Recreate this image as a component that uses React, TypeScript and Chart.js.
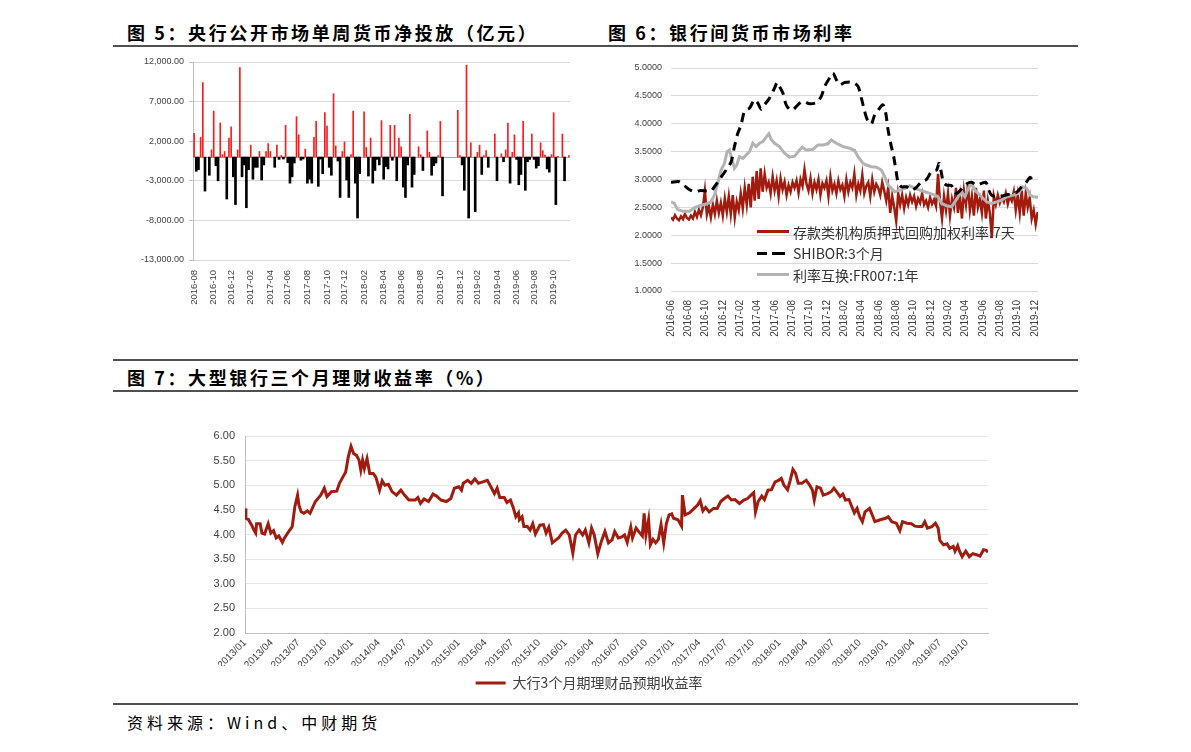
import React, { useEffect, useRef } from "react";
import { Chart, registerables } from "chart.js";
Chart.register(...registerables);

const TICK_FONT = "'Liberation Sans', Arial, sans-serif";
const CJK_FONT = "'Noto Sans CJK SC', sans-serif";

// ---------- 图5 央行公开市场单周货币净投放（亿元）: weekly, from 2016-08-05 ----------
const injectionFirstWeek = "2016-08-05";
const netInjection = [
  3000, -1800, -1600, 2500, 9400, -4300, 0, -2300, 900, 5800,
  -1100, -3000, 4300, 300, 700, -5300, 2400, 3800, -2500, -6000,
  900, 11300, -2500, -1000, -6400, -1600, 1500, -2800, -1300, -1300,
  700, -2900, -1000, 700, 1700, 700, 0, -1300, 1500, -300,
  200, -250, 4000, -700, -3300, -2500, -750, 5100, 2800, -400,
  -250, 1000, -3300, -2800, -3300, 2500, 4500, -3700, -250, -2100,
  5600, 3900, -1300, -2300, 8000, 1400, -500, -5100, 700, 1900,
  -2900, -5100, 300, 5800, -3300, -7700, -2100, 0, 5700, 1200,
  -2400, 2400, -3300, -1700, -300, -1000, 4600, -2800, -1200, -1500,
  4000, -400, 4000, -3000, 2400, 1300, -3800, -5100, -1000, 5400,
  -3800, -2200, 0, 1300, 300, -1700, 0, 3300, 600, -2300,
  -1100, -750, 200, 4500, -4900, 0, 0, 0, 0, 0,
  0, 5900, 200, -1000, -4200, 11600, -7700, 1800, 0, -6900,
  600, 1500, -2200, 200, 800, -1300, 0, 0, 2900, -3000,
  0, 400, -600, 900, 4300, -3300, 600, 2800, -300, -3500,
  -2200, 4500, -4200, -600, -300, 2900, -300, -1400, -1100, 1800,
  800, 250, -1500, -1900, 300, 5600, -6000, 100, 0, 2900,
  -3000, 0, 200,
];
const injectionTicksMin = -13000;
const injectionTicksMax = 12000;
const injectionStep = 5000;

// ---------- 图6 银行间货币市场利率: x = months since 2016-06 ----------
const rateAxisLabels = [
  "2016-06", "2016-08", "2016-10", "2016-12", "2017-02", "2017-04", "2017-06", "2017-08",
  "2017-10", "2017-12", "2018-02", "2018-04", "2018-06", "2018-08", "2018-10", "2018-12",
  "2019-02", "2019-04", "2019-06", "2019-08", "2019-10", "2019-12",
];
// DR007, weekly samples
const dr007Weekly = [
  2.32, 2.28, 2.36, 2.30, 2.27, 2.34, 2.29, 2.38, 2.31, 2.28, 2.35,
  2.30, 2.42, 2.33, 2.46, 2.36, 2.50, 2.80, 2.37, 2.52, 2.32,
  2.55, 2.38, 2.62, 2.40, 2.58, 2.35, 2.66, 2.42, 2.70, 2.38,
  2.72, 2.32, 2.60, 2.45, 2.75,
  2.48, 2.85, 2.55, 2.92, 2.50, 3.05, 2.62, 3.15,
  2.65, 3.20, 2.78, 3.10, 2.85, 2.95, 2.75,
  3.05, 2.80, 2.98, 2.70, 3.02, 2.82, 2.96, 2.72, 2.90, 2.78, 2.95, 2.85, 2.98, 2.76, 3.00, 2.88, 3.18, 2.92, 2.80, 3.02,
  2.75, 2.95, 2.82, 3.00, 2.72, 2.93, 2.85, 2.98, 2.70, 3.05, 2.80, 2.92, 2.75, 2.98, 2.82,
  2.90, 2.70, 3.00, 2.78, 2.95, 2.85, 3.10, 2.72, 2.92, 2.80, 3.08, 2.75, 2.88, 2.95, 2.70,
  3.00, 2.78, 2.92, 2.85, 2.72, 2.95, 2.80,
  2.62, 2.85, 2.40,
  2.70, 2.50, 2.25, 2.75, 2.55, 2.72, 2.48, 2.68,
  2.55, 2.72, 2.60, 2.70, 2.52, 2.66, 2.58, 2.75, 2.55, 2.62, 2.50, 2.68, 2.56, 2.64, 2.52, 3.10, 2.60,
  2.30, 2.70, 2.45, 2.75, 2.35, 2.65, 2.50, 2.85, 2.40, 2.70, 2.30, 2.80, 2.55, 2.90, 2.45,
  2.70, 2.35, 2.85, 2.50, 2.65, 2.40, 2.80, 2.30, 2.62, 2.40, 1.95, 2.70,
  2.55, 2.72, 2.58, 2.68, 2.60, 2.75, 2.56, 2.70, 2.62, 2.78, 2.45, 2.72, 2.40,
  2.80, 2.35, 2.75, 2.50, 2.68, 2.30, 2.45, 2.20, 2.42,
];
const shiborMonths = [
  0, 0.96, 1.93, 2.7, 3.28, 4.62, 5.01, 5.59, 6.36, 6.94, 7.32, 7.71, 8.09, 8.48, 9.06, 9.63,
  10.02, 10.4, 10.79, 11.37, 11.95, 12.25, 12.52, 12.91, 13.29, 13.68, 14.07, 14.64, 15.22,
  15.99, 16.76, 17.34, 17.73, 18.3, 18.69, 19.08, 19.46, 20.04, 21.0, 21.58, 21.97, 22.35,
  22.74, 23.12, 23.51, 24.08, 24.47, 24.78, 25.05, 25.43, 25.7, 26.01, 26.2, 26.59, 27.17,
  27.75, 28.32, 28.9, 29.48, 30.06, 30.64, 30.94, 31.21, 31.41, 31.79, 32.37, 32.95, 33.53,
  34.1, 34.68, 35.26, 35.84, 36.34, 36.61, 36.99, 37.57, 38.34, 39.11, 39.88, 40.46, 41.04,
  41.43, 41.66,
];
const shiborValues = [
  2.95, 2.96, 2.84, 2.78, 2.80, 2.80, 2.87, 3.00, 3.17, 3.32, 3.59, 3.83, 3.98, 4.22, 4.28, 4.43,
  4.37, 4.26, 4.34, 4.46, 4.64, 4.74, 4.67, 4.55, 4.34, 4.26, 4.25, 4.34, 4.40,
  4.36, 4.38, 4.49, 4.67, 4.82, 4.91, 4.79, 4.70, 4.74, 4.74, 4.67, 4.46, 4.22,
  4.04, 4.00, 4.16, 4.28, 4.34, 4.19, 3.89, 3.59, 3.41, 3.11, 2.96, 2.87, 2.87,
  2.81, 2.86, 2.96, 3.00, 3.14, 3.17, 3.29, 3.11, 2.96, 2.90, 2.89, 2.75, 2.83,
  2.92, 2.95, 2.90, 2.93, 2.95, 2.83, 2.72, 2.69, 2.71, 2.74, 2.77, 2.87, 2.96,
  3.04, 3.00,
];
const fr007Months = [
  0, 0.39, 0.77, 1.35, 2.12, 2.7, 3.28, 4.05, 4.62, 5.01, 5.39, 5.78, 6.17, 6.47, 6.74, 7.05,
  7.32, 7.59, 7.9, 8.29, 8.67, 9.06, 9.44, 9.83, 10.21, 10.6, 10.98, 11.29, 11.56, 11.95,
  12.52, 13.1, 13.68, 14.26, 14.84, 15.14, 15.61, 16.38, 16.96, 17.53, 18.11, 18.5, 19.08,
  19.85, 20.62, 21.19, 21.58, 22.16, 22.54, 23.12, 23.7, 24.28, 24.66, 25.05, 25.43, 25.82,
  26.4, 26.97, 27.55, 28.13, 28.71, 29.29, 29.87, 30.44, 30.83, 31.21, 31.79, 32.37, 32.76,
  33.14, 33.53, 33.91, 34.3, 34.68, 35.07, 35.45, 35.84, 36.42, 36.99, 37.57, 38.15, 38.73,
  39.5, 40.08, 40.58, 41.04, 41.43, 41.81, 42.39,
];
const fr007Values = [
  2.60, 2.57, 2.46, 2.43, 2.43, 2.49, 2.53, 2.56, 2.60, 2.72, 2.93, 3.17, 3.29, 3.50, 3.53, 3.35,
  3.20, 3.26, 3.41, 3.38, 3.44, 3.50, 3.65, 3.59, 3.65, 3.68, 3.76, 3.82, 3.72, 3.65,
  3.59, 3.47, 3.40, 3.42, 3.53, 3.58, 3.53, 3.54, 3.62, 3.62, 3.64, 3.71, 3.65,
  3.59, 3.56, 3.52, 3.41, 3.29, 3.26, 3.23, 3.22, 3.17, 3.05, 2.90, 2.84, 2.78,
  2.81, 2.84, 2.89, 2.84, 2.81, 2.78, 2.75, 2.72, 2.69, 2.57, 2.53, 2.51, 2.60,
  2.69, 2.78, 2.69, 2.84, 2.93, 2.81, 2.75, 2.69, 2.60, 2.57, 2.60, 2.63, 2.69,
  2.72, 2.75, 2.87, 2.84, 2.72, 2.69, 2.68,
];

// ---------- 图7 大型银行三个月理财收益率（%）: x = months since 2013-01 ----------
const wmpMonths = [
  0, 0.1, 0.4, 0.8, 1.0, 1.2, 1.3, 1.7, 1.9, 2.2, 2.6, 2.9, 3.2, 3.5, 3.8, 4.2, 4.4, 4.9, 5.3, 5.6,
  5.9, 6.05, 6.3, 6.6, 7.0, 7.3, 7.9, 8.5, 8.9, 9.2, 9.7, 10.3, 10.6, 11.0, 11.3, 11.6, 11.9, 12.2,
  12.5, 12.8, 13.0, 13.2, 13.4, 13.7, 14.0, 14.4, 14.7, 15.1, 15.4, 15.7, 16.1, 16.5, 17.0, 17.5,
  17.9, 18.4, 19.1, 19.4, 19.7, 20.1, 20.6, 21.1, 21.5, 22.0, 22.6, 23.1, 23.5, 24.0, 24.3, 24.5,
  25.0, 25.4, 25.8, 26.2, 26.7, 27.2, 27.6, 28.0, 28.3, 28.6, 29.1, 29.4, 29.8, 30.1, 30.4, 30.7,
  30.8, 31.1, 31.3, 31.7, 32.0, 32.3, 32.6, 33.1, 33.5, 33.8, 34.1, 34.5, 34.9, 35.2, 35.6, 36.0,
  36.4, 36.8, 37.1, 37.5, 37.9, 38.2, 38.6, 38.9, 39.2, 39.6, 40.0, 40.4, 40.8, 41.2, 41.5, 41.9,
  42.3, 42.6, 42.9, 43.3, 43.5, 43.9, 44.2, 44.6, 44.8, 45.0, 45.3, 45.5, 45.8, 46.1, 46.4, 46.7,
  47.0, 47.3, 47.6, 47.9, 48.1, 48.6, 49.0, 49.1, 49.4, 49.9, 50.3, 50.8, 51.1, 51.4, 51.7, 52.1,
  52.6, 53.0, 53.4, 53.8, 54.2, 54.6, 55.0, 55.5, 56.0, 56.4, 56.8, 57.1, 57.3, 57.6, 58.0, 58.3,
  58.7, 59.1, 59.5, 59.9, 60.2, 60.5, 60.9, 61.2, 61.5, 61.8, 62.1, 62.5, 63.0, 63.4, 63.7, 63.9,
  64.2, 64.6, 64.9, 65.4, 65.8, 66.1, 66.4, 66.8, 67.1, 67.4, 67.8, 68.1, 68.4, 68.7, 69.0, 69.3,
  69.6, 70.1, 70.4, 70.7, 71.3, 71.9, 72.2, 72.6, 73.1, 73.5, 73.8, 74.3, 74.8, 75.2, 75.6, 76.0,
  76.3, 76.6, 77.1, 77.5, 77.8, 78.0, 78.4, 78.8, 79.1, 79.5, 79.7, 80.0, 80.2, 80.5, 80.9, 81.3,
  81.7, 82.1, 82.5, 82.9, 83.2, 83.4,
];
const wmpYield = [
  4.53, 4.33, 4.30, 4.17, 4.09, 4.03, 4.22, 4.22, 4.03, 4.01, 4.22, 4.03, 4.08, 3.93, 3.97, 3.84, 3.92, 4.06, 4.16, 4.57,
  4.80, 4.60, 4.46, 4.43, 4.48, 4.43, 4.67, 4.80, 4.94, 4.77, 4.87, 4.88, 5.04, 5.17, 5.27, 5.58, 5.79, 5.64,
  5.61, 5.51, 5.31, 5.51, 5.34, 5.54, 5.24, 5.24, 5.16, 4.90, 5.09, 5.00, 5.02, 4.87, 4.80, 4.90,
  4.80, 4.70, 4.70, 4.75, 4.63, 4.72, 4.67, 4.82, 4.78, 4.70, 4.67, 4.73, 4.94, 4.97, 4.90, 5.04,
  5.10, 5.04, 5.13, 5.04, 5.07, 5.10, 4.97, 4.83, 4.94, 4.75, 4.75, 4.65, 4.70, 4.55, 4.36, 4.44,
  4.30, 4.36, 4.16, 4.16, 4.09, 4.22, 4.01, 4.19, 4.20, 4.03, 4.15, 3.83, 3.89, 3.93, 4.03, 4.09,
  3.99, 3.62, 3.99, 4.09, 3.99, 4.09, 3.83, 4.13, 3.99, 3.61, 3.86, 4.06, 3.83, 3.89, 4.06, 3.93,
  3.95, 3.99, 3.84, 4.15, 3.93, 4.13, 4.06, 3.97, 4.43, 3.99, 4.30, 3.79, 3.90, 3.83, 3.90, 4.20,
  3.83, 4.22, 4.40, 4.42, 4.33, 4.30, 4.17, 4.80, 4.40, 4.44, 4.51, 4.60, 4.69, 4.48, 4.55, 4.46,
  4.53, 4.53, 4.67, 4.73, 4.78, 4.70, 4.71, 4.63, 4.70, 4.73, 4.80, 4.85, 4.46, 4.67, 4.78, 4.71,
  4.90, 4.91, 5.07, 5.10, 5.14, 5.00, 4.91, 5.10, 5.32, 5.24, 5.04, 5.04, 5.10, 5.00, 4.90, 4.70,
  4.97, 4.94, 4.80, 4.83, 4.87, 4.94, 4.87, 4.77, 4.82, 4.70, 4.71, 4.57, 4.44, 4.53, 4.36, 4.26,
  4.46, 4.53, 4.40, 4.26, 4.30, 4.33, 4.36, 4.26, 4.23, 4.08, 4.26, 4.23, 4.22, 4.17, 4.16, 4.16,
  4.26, 4.13, 4.16, 4.23, 4.13, 3.88, 3.79, 3.81, 3.72, 3.76, 3.66, 3.77, 3.66, 3.55, 3.66, 3.55,
  3.61, 3.59, 3.56, 3.69, 3.68, 3.64,
];

const DARK_RED = "#a11b0e";

const fixWidth = (w: number) => (scale: any) => {
  scale.width = w;
  scale.paddingTop = 0;
  scale.paddingBottom = 0;
};
const fixHeight = (h: number) => (scale: any) => {
  scale.height = h;
  scale.paddingLeft = 0;
  scale.paddingRight = 0;
};

const zeroLinePlugin = {
  id: "zeroLine",
  beforeDatasetsDraw(chart: any) {
    const y = Math.round(chart.scales.y.getPixelForValue(0)) + 0.5;
    const { left, right } = chart.chartArea;
    const ctx = chart.ctx;
    ctx.save();
    ctx.strokeStyle = "#a6a6a6";
    ctx.lineWidth = 1;
    ctx.beginPath();
    ctx.moveTo(left, y);
    ctx.lineTo(right, y);
    ctx.stroke();
    ctx.restore();
  },
};

function weekLabel(i: number) {
  const d = new Date(new Date(injectionFirstWeek + "T00:00:00Z").getTime() + i * 7 * 86400000);
  return d.toISOString().slice(0, 10);
}

export default function App() {
  const c5 = useRef<HTMLCanvasElement>(null);
  const c6 = useRef<HTMLCanvasElement>(null);
  const c7 = useRef<HTMLCanvasElement>(null);

  useEffect(() => {
    const charts: Chart[] = [];
    const weeks = netInjection.map((_, i) => weekLabel(i));

    // ----- Chart 5 -----
    charts.push(
      new Chart(c5.current!, {
        type: "bar",
        data: {
          labels: weeks,
          datasets: [
            {
              label: "净投放",
              data: netInjection.map((v) => (v > 0 ? v : null)),
              backgroundColor: "#ff1a1a",
              barThickness: 1,
            },
            {
              label: "净回笼",
              data: netInjection.map((v) => (v < 0 ? v : null)),
              backgroundColor: "#000000",
              barThickness: 2,
            },
          ] as any,
        },
        options: {
          animation: false,
          responsive: false,
          events: [],
          layout: { padding: { top: 12, right: 15, left: 0, bottom: 0 } },
          plugins: { legend: { display: false }, tooltip: { enabled: false } },
          scales: {
            x: {
              stacked: true,
              grid: { display: false, drawTicks: false },
              border: { display: false },
              afterFit: fixHeight(60),
              ticks: {
                autoSkip: false,
                minRotation: 90,
                maxRotation: 90,
                padding: 10,
                color: "#404040",
                font: { family: TICK_FONT, size: 9.5 },
                callback: (_v: any, i: number) => {
                  const cur = weeks[i].slice(0, 7);
                  const prev = i > 0 ? weeks[i - 1].slice(0, 7) : "";
                  const m = parseInt(cur.slice(5, 7), 10);
                  return cur !== prev && m % 2 === 0 ? cur : "";
                },
              },
            },
            y: {
              stacked: true,
              min: injectionTicksMin,
              max: injectionTicksMax,
              afterFit: fixWidth(73),
              grid: { color: "#d9d9d9", tickLength: 4, tickColor: "#bfbfbf" },
              border: { display: true, color: "#bfbfbf" },
              ticks: {
                stepSize: injectionStep,
                padding: 5,
                color: "#404040",
                font: { family: TICK_FONT, size: 9 },
                callback: (v: any) =>
                  Number(v).toLocaleString("en-US", { minimumFractionDigits: 2, maximumFractionDigits: 2 }),
              },
            },
          },
        },
        plugins: [zeroLinePlugin],
      } as any)
    );

    // ----- Chart 6 -----
    const weekInMonths = 7 / 30.44;
    charts.push(
      new Chart(c6.current!, {
        type: "line",
        data: {
          datasets: [
            {
              label: "SHIBOR:3个月",
              data: shiborMonths.map((m, i) => ({ x: m, y: shiborValues[i] })),
              borderColor: "#000000",
              borderWidth: 3,
              borderDash: [9, 6],
              pointRadius: 0,
              tension: 0.3,
            },
            {
              label: "利率互换:FR007:1年",
              data: fr007Months.map((m, i) => ({ x: m, y: fr007Values[i] })),
              borderColor: "#b3b3b3",
              borderWidth: 3,
              pointRadius: 0,
            },
            {
              label: "存款类机构质押式回购加权利率:7天",
              data: dr007Weekly.map((v, i) => ({ x: i * weekInMonths, y: v })),
              borderColor: DARK_RED,
              borderWidth: 2.5,
              pointRadius: 0,
            },
          ],
        },
        options: {
          animation: false,
          responsive: false,
          events: [],
          layout: { padding: { top: 13, right: 12, left: 0, bottom: 0 } },
          plugins: { legend: { display: false }, tooltip: { enabled: false } },
          scales: {
            x: {
              type: "linear",
              min: 0,
              max: 42.35,
              afterFit: fixHeight(54),
              afterBuildTicks: (scale: any) => {
                scale.ticks = rateAxisLabels.map((_, i) => ({ value: i * 2 }));
              },
              grid: { display: false, drawTicks: false },
              border: { display: false },
              ticks: {
                autoSkip: false,
                minRotation: 90,
                maxRotation: 90,
                padding: 9,
                color: "#404040",
                font: { family: TICK_FONT, size: 10 },
                callback: (v: any) => rateAxisLabels[Math.round(Number(v) / 2)] ?? "",
              },
            },
            y: {
              min: 1,
              max: 5,
              afterFit: fixWidth(71),
              grid: { color: "#d9d9d9", drawTicks: false },
              border: { display: false },
              ticks: {
                stepSize: 0.5,
                padding: 9,
                color: "#404040",
                font: { family: TICK_FONT, size: 9 },
                callback: (v: any) => Number(v).toFixed(4),
              },
            },
          },
        },
      } as any)
    );

    // ----- Chart 7 -----
    charts.push(
      new Chart(c7.current!, {
        type: "line",
        data: {
          datasets: [
            {
              label: "大行3个月期理财品预期收益率",
              data: wmpMonths.map((m, i) => ({ x: m, y: wmpYield[i] })),
              borderColor: DARK_RED,
              backgroundColor: DARK_RED,
              borderWidth: 3,
              pointRadius: 0,
            },
          ],
        },
        options: {
          animation: false,
          responsive: false,
          events: [],
          layout: { padding: { top: 11, right: 22, left: 0, bottom: 0 } },
          plugins: {
            tooltip: { enabled: false },
            legend: {
              position: "bottom",
              labels: {
                usePointStyle: true,
                pointStyle: "line",
                pointStyleWidth: 30,
                color: "#404040",
                font: { family: CJK_FONT, size: 14 },
              },
            },
          },
          scales: {
            x: {
              type: "linear",
              min: 0,
              max: 83.4,
              afterFit: fixHeight(33),
              afterBuildTicks: (scale: any) => {
                const t = [];
                for (let m = 0; m <= 81; m += 3) t.push({ value: m });
                scale.ticks = t;
              },
              grid: { display: false, drawTicks: false },
              border: { display: true, color: "#bfbfbf" },
              ticks: {
                autoSkip: false,
                minRotation: 45,
                maxRotation: 45,
                padding: 4,
                color: "#404040",
                font: { family: TICK_FONT, size: 10 },
                callback: (v: any) => {
                  const m = Math.round(Number(v));
                  return `${2013 + Math.floor(m / 12)}/${String((m % 12) + 1).padStart(2, "0")}`;
                },
              },
            },
            y: {
              min: 2,
              max: 6,
              afterFit: fixWidth(55),
              grid: { color: "#e6e6e6", drawTicks: false },
              border: { display: true, color: "#bfbfbf" },
              ticks: {
                stepSize: 0.5,
                padding: 10,
                color: "#404040",
                font: { family: TICK_FONT, size: 11 },
                callback: (v: any) => Number(v).toFixed(2),
              },
            },
          },
        },
      } as any)
    );

    return () => charts.forEach((c) => c.destroy());
  }, []);

  const titleStyle: React.CSSProperties = {
    position: "absolute",
    fontFamily: CJK_FONT,
    fontWeight: 700,
    fontSize: 18,
    letterSpacing: "2.6px",
    lineHeight: "24px",
    color: "#000",
    whiteSpace: "nowrap",
  };
  const rule = (top: number): React.CSSProperties => ({
    position: "absolute",
    left: 113,
    top,
    width: 965,
    height: 2,
    background: "#505050",
  });
  const legendText: React.CSSProperties = {
    position: "absolute",
    left: 793,
    fontFamily: "'Liberation Sans Narrow', 'Noto Sans CJK SC', sans-serif",
    fontSize: 14,
    lineHeight: "18px",
    color: "#333",
    whiteSpace: "nowrap",
  };

  return (
    <div
      style={{
        position: "absolute",
        left: 0,
        top: 0,
        width: 1191,
        height: 752,
        background: "#fff",
        overflow: "hidden",
      }}
    >
      <div style={{ ...titleStyle, left: 127, top: 20 }}>图 5：央行公开市场单周货币净投放（亿元）</div>
      <div style={{ ...titleStyle, left: 608, top: 20 }}>图 6：银行间货币市场利率</div>
      <div style={rule(45)} />

      <canvas ref={c5} width={465} height={270} style={{ position: "absolute", left: 120, top: 50 }} />
      <canvas ref={c6} width={450} height={290} style={{ position: "absolute", left: 600, top: 55 }} />

      {/* legend of chart 6, drawn inside its plot area */}
      <div style={{ position: "absolute", left: 757, top: 230, width: 32, height: 3, background: DARK_RED }} />
      <div style={{ ...legendText, top: 223 }}>存款类机构质押式回购加权利率:7天</div>
      <div style={{ position: "absolute", left: 757, top: 252, width: 10, height: 3, background: "#000" }} />
      <div style={{ position: "absolute", left: 772, top: 252, width: 13, height: 3, background: "#000" }} />
      <div style={{ ...legendText, top: 244 }}>SHIBOR:3个月</div>
      <div style={{ position: "absolute", left: 757, top: 273, width: 32, height: 3, background: "#b3b3b3" }} />
      <div style={{ ...legendText, top: 266 }}>利率互换:FR007:1年</div>

      <div style={rule(359)} />
      <div style={{ ...titleStyle, left: 127, top: 365 }}>图 7：大型银行三个月理财收益率（%）</div>
      <div style={rule(390)} />

      <canvas ref={c7} width={820} height={275} style={{ position: "absolute", left: 190, top: 425 }} />

      <div style={rule(703)} />
      <div
        style={{
          position: "absolute",
          left: 127,
          top: 710,
          fontFamily: CJK_FONT,
          fontSize: 16,
          letterSpacing: "4px",
          lineHeight: "24px",
          color: "#000",
          whiteSpace: "nowrap",
        }}
      >
        资料来源：Wind、中财期货
      </div>
    </div>
  );
}
